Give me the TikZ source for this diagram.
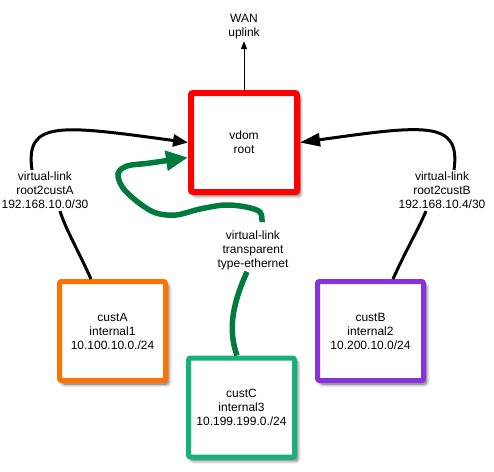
\documentclass[tikz,border=0pt]{standalone}
\usepackage{fontspec}
\setmainfont{Liberation Sans}
\usetikzlibrary{arrows.meta,shadows.blur,calc}
\definecolor{cred}{RGB}{255,0,0}
\definecolor{corange}{RGB}{255,114,0}
\definecolor{cgreenbox}{RGB}{22,176,122}
\definecolor{cpurple}{RGB}{136,50,222}
\definecolor{cdarkgreen}{RGB}{0,122,61}
\begin{document}
\begin{tikzpicture}[x=1pt,y=1pt,
  every node/.style={font=\fontsize{12}{14}\selectfont, align=center},
  box/.style={draw=#1, line width=5pt, fill=white, rounded corners=2pt,
    minimum width=106pt, minimum height=99pt, inner sep=0pt,
    blur shadow={shadow xshift=3pt, shadow yshift=-3.5pt, shadow blur radius=3.5pt, shadow blur steps=10, shadow opacity=65}},
  lbl/.style={inner sep=2pt},
  blk/.style={line width=3pt, black},
  grn/.style={line width=5.5pt, cdarkgreen}
]
\useasboundingbox (0,0) rectangle (494,-471);

% boxes
\node[box=cred, line width=6pt] (root) at (244,-142.5) {vdom\\root};
\node[box=corange] (custA) at (112.5,-331) {custA\\internal1\\10.100.10.0./24};
\node[box=cgreenbox] (custC) at (241.5,-407.5) {custC\\internal3\\10.199.199.0./24};
\node[box=cpurple] (custB) at (370.5,-331) {custB\\internal2\\10.200.10.0/24};

% labels
\node[lbl] (wan) at (244,-26.5) {WAN\\uplink};
\node[lbl] (labA) at (45,-190.5) {virtual-link\\root2custA\\192.168.10.0/30};
\node[lbl] (labB) at (442,-190.5) {virtual-link\\root2custB\\192.168.10.4/30};
\node[lbl] (labC) at (253,-250) {virtual-link\\transparent\\type-ethernet};

% WAN uplink
\draw[line width=1pt, -{Triangle[length=8pt,width=6pt]}] (root.north) -- (wan.south);

% custA link
\draw[blk] ([xshift=-21.5pt]custA.north) .. controls (78,-250) and (66,-230) .. ([xshift=15pt]labA.south);
\draw[blk, -{Triangle[length=15pt,width=12pt]}] ([xshift=-13pt]labA.north) .. controls (25,-120) and (60,-125) .. (root.west);

% custB link
\draw[blk] ([xshift=22.5pt]custB.north) .. controls (406,-250) and (418,-230) .. ([xshift=-16pt]labB.south);
\draw[blk, -{Triangle[length=20pt,width=13pt]}] ([xshift=12pt]labB.north) .. controls (461,-120) and (425,-125) .. (root.east);

% custC transparent link
\draw[grn] ([xshift=-6pt]labC.south) .. controls (232,-305) and (228,-330) .. ([xshift=-4.5pt]custC.north);
\draw[grn, -{Triangle[length=22pt,width=19pt]}] plot[smooth, tension=0.55] coordinates {
  ([xshift=9pt,yshift=6pt]labC.north) (260,-212) (246,-207) (225,-205) (200,-209) (176,-215) (156,-213) (139,-203) (123,-188) (118,-174) (127,-166) (150,-163) ([yshift=-15pt]root.west)};
\end{tikzpicture}
\end{document}
